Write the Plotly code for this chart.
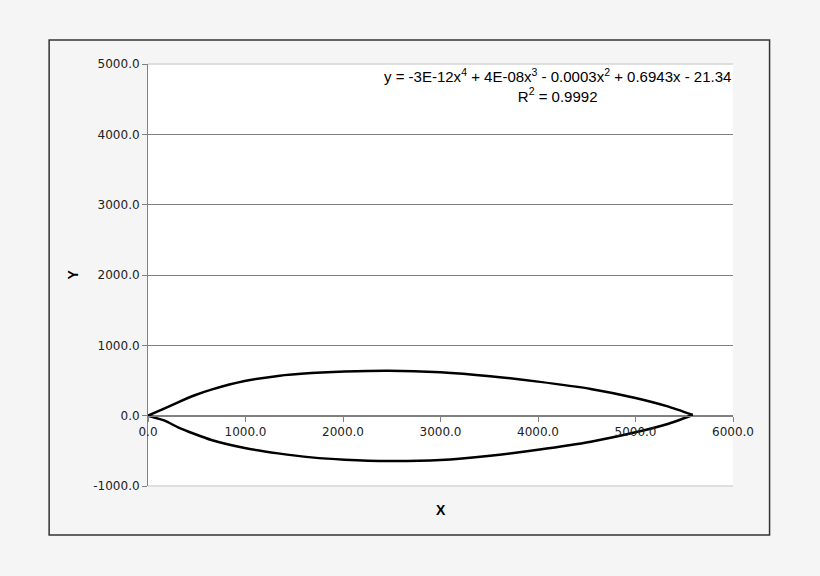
import plotly.graph_objects as go

# upper branch of the profile
upper_x = [0, 171, 308, 479, 650, 992, 1333, 1675, 2017, 2472, 3000, 3509, 4000, 4541, 5000, 5330, 5588]
upper_y = [0, 104, 190, 290, 370, 492, 565, 605, 628, 640, 616, 560, 484, 380, 252, 132, 10]

# lower branch
lower_x = [0, 171, 308, 479, 650, 992, 1333, 1675, 2017, 2472, 3000, 3509, 4000, 4541, 5000, 5330, 5588]
lower_y = [0, -71, -166, -261, -346, -460, -536, -593, -626, -645, -630, -569, -484, -370, -237, -118, 10]

x_ticks = [0, 1000, 2000, 3000, 4000, 5000, 6000]
y_ticks = [-1000, 0, 1000, 2000, 3000, 4000, 5000]

equation = "y = -3E-12x<sup>4</sup> + 4E-08x<sup>3</sup> - 0.0003x<sup>2</sup> + 0.6943x - 21.34<br>R<sup>2</sup> = 0.9992"

font = "Liberation Sans, Arial, sans-serif"
tick_font = {"family": "DejaVu Sans, Verdana, sans-serif", "size": 12, "color": "#222222"}

fig = go.Figure()
for xs, ys in [(upper_x, upper_y), (lower_x, lower_y)]:
    fig.add_trace(
        go.Scatter(
            x=xs,
            y=ys,
            mode="lines",
            line={"color": "#000000", "width": 2.5, "shape": "spline", "smoothing": 0.6},
            showlegend=False,
        )
    )

fig.update_layout(
    width=820,
    height=576,
    paper_bgcolor="#f5f5f5",
    plot_bgcolor="#ffffff",
    margin={"l": 148, "r": 87, "t": 64, "b": 90},
    showlegend=False,
)
fig.update_xaxes(
    range=[0, 6000],
    tickvals=x_ticks,
    ticktext=[f"{v:.1f}" for v in x_ticks],
    anchor="free",
    position=1 / 6,
    showline=True,
    linecolor="#808080",
    linewidth=1,
    ticks="outside",
    ticklen=5,
    tickcolor="#808080",
    showgrid=False,
    zeroline=False,
    tickfont=tick_font,
)
fig.update_yaxes(
    range=[-1000, 5000],
    tickvals=y_ticks,
    ticktext=[f"{v:.1f}" for v in y_ticks],
    showline=True,
    linecolor="#808080",
    linewidth=1,
    ticks="outside",
    ticklen=5,
    tickcolor="#808080",
    showgrid=True,
    gridcolor="#808080",
    gridwidth=1,
    zeroline=False,
    tickfont=tick_font,
)

# outer chart frame
fig.add_shape(
    type="rect", xref="paper", yref="paper",
    x0=-0.169, x1=1.0625, y0=-0.116, y1=1.057,
    line={"color": "#333333", "width": 1.5},
    layer="below",
)
# faint top and bottom edges of the plot area
for edge in (0, 1):
    fig.add_shape(
        type="line", xref="paper", yref="paper",
        x0=0, x1=1, y0=edge, y1=edge,
        line={"color": "#d4d4d4", "width": 1.5},
        layer="below",
    )

fig.add_annotation(
    text=equation, xref="paper", yref="paper", x=1.0, y=1.0,
    xanchor="right", yanchor="top", align="center", showarrow=False,
    font={"family": font, "size": 15, "color": "#000000"},
)
fig.add_annotation(
    text="<b>X</b>", xref="paper", yref="paper", x=0.5, y=-0.057,
    xanchor="center", yanchor="middle", showarrow=False,
    font={"family": font, "size": 14, "color": "#000000"},
)
fig.add_annotation(
    text="<b>Y</b>", xref="paper", yref="paper", x=-0.129, y=0.5,
    xanchor="center", yanchor="middle", textangle=-90, showarrow=False,
    font={"family": font, "size": 14, "color": "#000000"},
)

fig.write_html(
    "out.html",
    config={"displayModeBar": False},
    post_script="document.body.style.margin='0';document.body.style.background='#f5f5f5';",
)
